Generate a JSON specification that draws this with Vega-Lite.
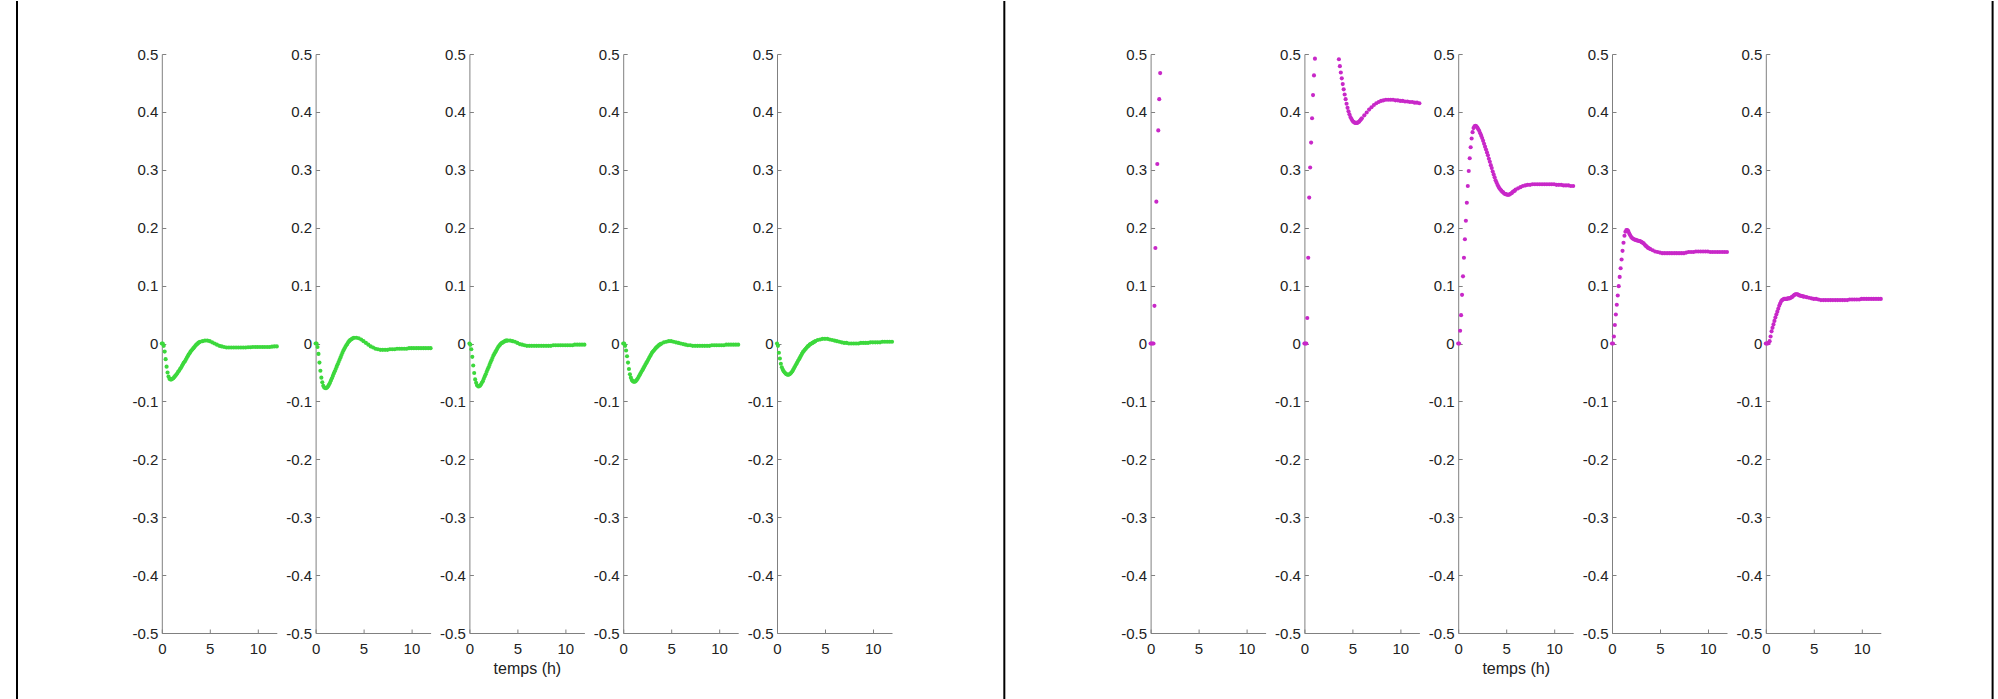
{
  "$schema": "https://vega.github.io/schema/vega-lite/v6.json",
  "padding": {"left": 16, "top": 0, "right": 0, "bottom": 0},
  "background": "white",
  "bounds": "flush",
  "spacing": 38.8,
  "datasets": {
    "G1": [
      {"t":0,"v":0},{"t":0.1,"v":0},{"t":0.2,"v":-0.004},{"t":0.3,"v":-0.014},{"t":0.4,"v":-0.027},{"t":0.5,"v":-0.04},{"t":0.6,"v":-0.05},{"t":0.7,"v":-0.057},{"t":0.8,"v":-0.061},{"t":0.9,"v":-0.062},
      {"t":1,"v":-0.062},{"t":1.1,"v":-0.061},{"t":1.2,"v":-0.06},{"t":1.3,"v":-0.058},{"t":1.4,"v":-0.056},{"t":1.5,"v":-0.054},{"t":1.6,"v":-0.052},{"t":1.7,"v":-0.049},{"t":1.8,"v":-0.047},{"t":1.9,"v":-0.044},
      {"t":2,"v":-0.042},{"t":2.1,"v":-0.039},{"t":2.2,"v":-0.036},{"t":2.3,"v":-0.033},{"t":2.4,"v":-0.031},{"t":2.5,"v":-0.028},{"t":2.6,"v":-0.025},{"t":2.7,"v":-0.022},{"t":2.8,"v":-0.019},{"t":2.9,"v":-0.017},
      {"t":3,"v":-0.014},{"t":3.1,"v":-0.012},{"t":3.2,"v":-0.01},{"t":3.3,"v":-0.008},{"t":3.4,"v":-0.006},{"t":3.5,"v":-0.004},{"t":3.6,"v":-0.002},{"t":3.7,"v":-0.001},{"t":3.8,"v":0.001},{"t":3.9,"v":0.002},
      {"t":4,"v":0.003},{"t":4.25,"v":0.004},{"t":4.5,"v":0.005},{"t":4.75,"v":0.005},{"t":5,"v":0.004},{"t":5.25,"v":0.002},{"t":5.5,"v":0},{"t":5.75,"v":-0.002},{"t":6,"v":-0.004},{"t":6.25,"v":-0.005},
      {"t":6.5,"v":-0.006},{"t":6.75,"v":-0.007},{"t":7,"v":-0.007},{"t":7.25,"v":-0.007},{"t":7.5,"v":-0.007},{"t":7.75,"v":-0.007},{"t":8,"v":-0.007},{"t":8.25,"v":-0.007},{"t":8.5,"v":-0.007},{"t":8.75,"v":-0.007},
      {"t":9,"v":-0.0065},{"t":9.25,"v":-0.0065},{"t":9.5,"v":-0.006},{"t":9.75,"v":-0.006},{"t":10,"v":-0.006},{"t":10.25,"v":-0.006},{"t":10.5,"v":-0.006},{"t":10.75,"v":-0.006},{"t":11,"v":-0.006},{"t":11.25,"v":-0.006},
      {"t":11.5,"v":-0.0055},{"t":11.75,"v":-0.005},{"t":12,"v":-0.005}
    ],
    "G2": [
      {"t":0,"v":0},{"t":0.1,"v":0},{"t":0.2,"v":-0.006},{"t":0.3,"v":-0.018},{"t":0.4,"v":-0.033},{"t":0.5,"v":-0.047},{"t":0.6,"v":-0.059},{"t":0.7,"v":-0.067},{"t":0.8,"v":-0.073},{"t":0.9,"v":-0.076},
      {"t":1,"v":-0.077},{"t":1.1,"v":-0.077},{"t":1.2,"v":-0.076},{"t":1.3,"v":-0.074},{"t":1.4,"v":-0.071},{"t":1.5,"v":-0.068},{"t":1.6,"v":-0.064},{"t":1.7,"v":-0.06},{"t":1.8,"v":-0.056},{"t":1.9,"v":-0.052},
      {"t":2,"v":-0.048},{"t":2.1,"v":-0.044},{"t":2.2,"v":-0.04},{"t":2.3,"v":-0.036},{"t":2.4,"v":-0.032},{"t":2.5,"v":-0.028},{"t":2.6,"v":-0.024},{"t":2.7,"v":-0.02},{"t":2.8,"v":-0.016},{"t":2.9,"v":-0.012},
      {"t":3,"v":-0.009},{"t":3.1,"v":-0.006},{"t":3.2,"v":-0.003},{"t":3.3,"v":-0.001},{"t":3.4,"v":0.002},{"t":3.5,"v":0.004},{"t":3.6,"v":0.006},{"t":3.7,"v":0.007},{"t":3.8,"v":0.008},{"t":3.9,"v":0.009},
      {"t":4,"v":0.01},{"t":4.25,"v":0.01},{"t":4.5,"v":0.009},{"t":4.75,"v":0.007},{"t":5,"v":0.004},{"t":5.25,"v":0.001},{"t":5.5,"v":-0.002},{"t":5.75,"v":-0.005},{"t":6,"v":-0.007},{"t":6.25,"v":-0.009},
      {"t":6.5,"v":-0.01},{"t":6.75,"v":-0.011},{"t":7,"v":-0.011},{"t":7.25,"v":-0.011},{"t":7.5,"v":-0.011},{"t":7.75,"v":-0.01},{"t":8,"v":-0.01},{"t":8.25,"v":-0.01},{"t":8.5,"v":-0.009},{"t":8.75,"v":-0.009},
      {"t":9,"v":-0.009},{"t":9.25,"v":-0.009},{"t":9.5,"v":-0.009},{"t":9.75,"v":-0.008},{"t":10,"v":-0.008},{"t":10.25,"v":-0.008},{"t":10.5,"v":-0.008},{"t":10.75,"v":-0.008},{"t":11,"v":-0.008},{"t":11.25,"v":-0.008},
      {"t":11.5,"v":-0.008},{"t":11.75,"v":-0.008},{"t":12,"v":-0.008}
    ],
    "G3": [
      {"t":0,"v":0},{"t":0.1,"v":-0.002},{"t":0.2,"v":-0.01},{"t":0.3,"v":-0.023},{"t":0.4,"v":-0.038},{"t":0.5,"v":-0.051},{"t":0.6,"v":-0.062},{"t":0.7,"v":-0.068},{"t":0.8,"v":-0.072},{"t":0.9,"v":-0.074},
      {"t":1,"v":-0.074},{"t":1.1,"v":-0.073},{"t":1.2,"v":-0.071},{"t":1.3,"v":-0.068},{"t":1.4,"v":-0.065},{"t":1.5,"v":-0.061},{"t":1.6,"v":-0.057},{"t":1.7,"v":-0.053},{"t":1.8,"v":-0.049},{"t":1.9,"v":-0.045},
      {"t":2,"v":-0.041},{"t":2.1,"v":-0.037},{"t":2.2,"v":-0.033},{"t":2.3,"v":-0.029},{"t":2.4,"v":-0.025},{"t":2.5,"v":-0.021},{"t":2.6,"v":-0.018},{"t":2.7,"v":-0.015},{"t":2.8,"v":-0.012},{"t":2.9,"v":-0.009},
      {"t":3,"v":-0.006},{"t":3.1,"v":-0.004},{"t":3.2,"v":-0.002},{"t":3.3,"v":0},{"t":3.4,"v":0.001},{"t":3.5,"v":0.002},{"t":3.6,"v":0.003},{"t":3.7,"v":0.004},{"t":3.8,"v":0.005},{"t":3.9,"v":0.005},
      {"t":4,"v":0.005},{"t":4.25,"v":0.005},{"t":4.5,"v":0.004},{"t":4.75,"v":0.003},{"t":5,"v":0.001},{"t":5.25,"v":-0.001},{"t":5.5,"v":-0.002},{"t":5.75,"v":-0.003},{"t":6,"v":-0.004},{"t":6.25,"v":-0.004},
      {"t":6.5,"v":-0.004},{"t":6.75,"v":-0.004},{"t":7,"v":-0.004},{"t":7.25,"v":-0.004},{"t":7.5,"v":-0.004},{"t":7.75,"v":-0.004},{"t":8,"v":-0.004},{"t":8.25,"v":-0.004},{"t":8.5,"v":-0.004},{"t":8.75,"v":-0.003},
      {"t":9,"v":-0.003},{"t":9.25,"v":-0.003},{"t":9.5,"v":-0.003},{"t":9.75,"v":-0.003},{"t":10,"v":-0.003},{"t":10.25,"v":-0.003},{"t":10.5,"v":-0.003},{"t":10.75,"v":-0.003},{"t":11,"v":-0.002},{"t":11.25,"v":-0.002},
      {"t":11.5,"v":-0.002},{"t":11.75,"v":-0.002},{"t":12,"v":-0.002}
    ],
    "G4": [
      {"t":0,"v":0},{"t":0.1,"v":0},{"t":0.2,"v":-0.004},{"t":0.3,"v":-0.012},{"t":0.4,"v":-0.022},{"t":0.5,"v":-0.033},{"t":0.6,"v":-0.044},{"t":0.7,"v":-0.053},{"t":0.8,"v":-0.059},{"t":0.9,"v":-0.063},
      {"t":1,"v":-0.065},{"t":1.1,"v":-0.066},{"t":1.2,"v":-0.066},{"t":1.3,"v":-0.065},{"t":1.4,"v":-0.063},{"t":1.5,"v":-0.061},{"t":1.6,"v":-0.058},{"t":1.7,"v":-0.055},{"t":1.8,"v":-0.052},{"t":1.9,"v":-0.049},
      {"t":2,"v":-0.046},{"t":2.1,"v":-0.043},{"t":2.2,"v":-0.04},{"t":2.3,"v":-0.037},{"t":2.4,"v":-0.034},{"t":2.5,"v":-0.031},{"t":2.6,"v":-0.028},{"t":2.7,"v":-0.025},{"t":2.8,"v":-0.022},{"t":2.9,"v":-0.019},
      {"t":3,"v":-0.016},{"t":3.1,"v":-0.014},{"t":3.2,"v":-0.012},{"t":3.3,"v":-0.01},{"t":3.4,"v":-0.008},{"t":3.5,"v":-0.006},{"t":3.6,"v":-0.005},{"t":3.7,"v":-0.003},{"t":3.8,"v":-0.002},{"t":3.9,"v":-0.001},
      {"t":4,"v":0},{"t":4.25,"v":0.002},{"t":4.5,"v":0.003},{"t":4.75,"v":0.004},{"t":5,"v":0.004},{"t":5.25,"v":0.003},{"t":5.5,"v":0.002},{"t":5.75,"v":0.001},{"t":6,"v":0},{"t":6.25,"v":-0.001},
      {"t":6.5,"v":-0.002},{"t":6.75,"v":-0.003},{"t":7,"v":-0.003},{"t":7.25,"v":-0.004},{"t":7.5,"v":-0.004},{"t":7.75,"v":-0.004},{"t":8,"v":-0.004},{"t":8.25,"v":-0.004},{"t":8.5,"v":-0.004},{"t":8.75,"v":-0.004},
      {"t":9,"v":-0.004},{"t":9.25,"v":-0.003},{"t":9.5,"v":-0.003},{"t":9.75,"v":-0.003},{"t":10,"v":-0.003},{"t":10.25,"v":-0.003},{"t":10.5,"v":-0.003},{"t":10.75,"v":-0.002},{"t":11,"v":-0.002},{"t":11.25,"v":-0.002},
      {"t":11.5,"v":-0.002},{"t":11.75,"v":-0.002},{"t":12,"v":-0.002}
    ],
    "G5": [
      {"t":0,"v":0},{"t":0.1,"v":-0.004},{"t":0.2,"v":-0.016},{"t":0.3,"v":-0.026},{"t":0.4,"v":-0.035},{"t":0.5,"v":-0.041},{"t":0.6,"v":-0.045},{"t":0.7,"v":-0.048},{"t":0.8,"v":-0.05},{"t":0.9,"v":-0.052},
      {"t":1,"v":-0.053},{"t":1.1,"v":-0.054},{"t":1.2,"v":-0.054},{"t":1.3,"v":-0.053},{"t":1.4,"v":-0.052},{"t":1.5,"v":-0.05},{"t":1.6,"v":-0.048},{"t":1.7,"v":-0.045},{"t":1.8,"v":-0.042},{"t":1.9,"v":-0.039},
      {"t":2,"v":-0.036},{"t":2.1,"v":-0.033},{"t":2.2,"v":-0.03},{"t":2.3,"v":-0.027},{"t":2.4,"v":-0.024},{"t":2.5,"v":-0.021},{"t":2.6,"v":-0.018},{"t":2.7,"v":-0.015},{"t":2.8,"v":-0.013},{"t":2.9,"v":-0.011},
      {"t":3,"v":-0.009},{"t":3.1,"v":-0.007},{"t":3.2,"v":-0.005},{"t":3.3,"v":-0.004},{"t":3.4,"v":-0.002},{"t":3.5,"v":-0.001},{"t":3.6,"v":0},{"t":3.7,"v":0.001},{"t":3.8,"v":0.002},{"t":3.9,"v":0.003},
      {"t":4,"v":0.004},{"t":4.25,"v":0.006},{"t":4.5,"v":0.007},{"t":4.75,"v":0.008},{"t":5,"v":0.008},{"t":5.25,"v":0.008},{"t":5.5,"v":0.007},{"t":5.75,"v":0.006},{"t":6,"v":0.005},{"t":6.25,"v":0.004},
      {"t":6.5,"v":0.003},{"t":6.75,"v":0.002},{"t":7,"v":0.001},{"t":7.25,"v":0.001},{"t":7.5,"v":0},{"t":7.75,"v":0},{"t":8,"v":0},{"t":8.25,"v":0},{"t":8.5,"v":0},{"t":8.75,"v":0.001},
      {"t":9,"v":0.001},{"t":9.25,"v":0.001},{"t":9.5,"v":0.001},{"t":9.75,"v":0.002},{"t":10,"v":0.002},{"t":10.25,"v":0.002},{"t":10.5,"v":0.002},{"t":10.75,"v":0.002},{"t":11,"v":0.003},{"t":11.25,"v":0.003},
      {"t":11.5,"v":0.003},{"t":11.75,"v":0.003},{"t":12,"v":0.003}
    ],
    "M1": [
      {"t":0,"v":0},{"t":0.1,"v":0},{"t":0.2,"v":0},{"t":0.3,"v":0},{"t":0.4,"v":0.065},{"t":0.5,"v":0.165},{"t":0.6,"v":0.245},{"t":0.7,"v":0.31},{"t":0.8,"v":0.368},{"t":0.9,"v":0.422},
      {"t":1,"v":0.467}
    ],
    "M2": [
      {"t":0,"v":0},{"t":0.1,"v":0},{"t":0.2,"v":0},{"t":0.3,"v":0.044},{"t":0.4,"v":0.148},{"t":0.5,"v":0.252},{"t":0.6,"v":0.304},{"t":0.7,"v":0.347},{"t":0.8,"v":0.389},{"t":0.9,"v":0.429},
      {"t":1,"v":0.463},{"t":1.1,"v":0.492},
      {"t":3.6,"v":0.491},{"t":3.7,"v":0.479},{"t":3.8,"v":0.468},{"t":3.9,"v":0.458},{"t":4,"v":0.448},{"t":4.1,"v":0.439},{"t":4.2,"v":0.43},{"t":4.3,"v":0.422},{"t":4.4,"v":0.414},{"t":4.5,"v":0.407},
      {"t":4.6,"v":0.401},{"t":4.7,"v":0.396},{"t":4.8,"v":0.391},{"t":4.9,"v":0.388},{"t":5,"v":0.385},{"t":5.1,"v":0.383},{"t":5.2,"v":0.382},{"t":5.3,"v":0.381},{"t":5.4,"v":0.381},{"t":5.5,"v":0.381},
      {"t":5.6,"v":0.382},{"t":5.7,"v":0.383},{"t":5.8,"v":0.385},{"t":5.9,"v":0.387},{"t":6,"v":0.389},{"t":6.25,"v":0.394},{"t":6.5,"v":0.399},{"t":6.75,"v":0.404},{"t":7,"v":0.408},{"t":7.25,"v":0.412},
      {"t":7.5,"v":0.415},{"t":7.75,"v":0.417},{"t":8,"v":0.419},{"t":8.25,"v":0.42},{"t":8.5,"v":0.421},{"t":8.75,"v":0.421},{"t":9,"v":0.421},{"t":9.25,"v":0.421},{"t":9.5,"v":0.42},{"t":9.75,"v":0.42},
      {"t":10,"v":0.419},{"t":10.25,"v":0.419},{"t":10.5,"v":0.418},{"t":10.75,"v":0.418},{"t":11,"v":0.417},{"t":11.25,"v":0.417},{"t":11.5,"v":0.416},{"t":11.75,"v":0.416},{"t":12,"v":0.415}
    ],
    "M3": [
      {"t":0,"v":0},{"t":0.1,"v":0},{"t":0.2,"v":0.022},{"t":0.3,"v":0.049},{"t":0.4,"v":0.084},{"t":0.5,"v":0.116},{"t":0.6,"v":0.148},{"t":0.7,"v":0.18},{"t":0.8,"v":0.212},{"t":0.9,"v":0.243},
      {"t":1,"v":0.272},{"t":1.1,"v":0.298},{"t":1.2,"v":0.32},{"t":1.3,"v":0.339},{"t":1.4,"v":0.354},{"t":1.5,"v":0.365},{"t":1.6,"v":0.372},{"t":1.7,"v":0.375},{"t":1.8,"v":0.376},{"t":1.9,"v":0.375},
      {"t":2,"v":0.373},{"t":2.1,"v":0.37},{"t":2.2,"v":0.367},{"t":2.3,"v":0.363},{"t":2.4,"v":0.359},{"t":2.5,"v":0.355},{"t":2.6,"v":0.35},{"t":2.7,"v":0.345},{"t":2.8,"v":0.34},{"t":2.9,"v":0.335},
      {"t":3,"v":0.33},{"t":3.1,"v":0.325},{"t":3.2,"v":0.319},{"t":3.3,"v":0.314},{"t":3.4,"v":0.308},{"t":3.5,"v":0.303},{"t":3.6,"v":0.297},{"t":3.7,"v":0.292},{"t":3.8,"v":0.287},{"t":3.9,"v":0.282},
      {"t":4,"v":0.278},{"t":4.1,"v":0.274},{"t":4.2,"v":0.271},{"t":4.3,"v":0.268},{"t":4.4,"v":0.266},{"t":4.5,"v":0.264},{"t":4.6,"v":0.262},{"t":4.7,"v":0.261},{"t":4.8,"v":0.259},{"t":4.9,"v":0.258},
      {"t":5,"v":0.258},{"t":5.1,"v":0.257},{"t":5.2,"v":0.257},{"t":5.3,"v":0.257},{"t":5.4,"v":0.258},{"t":5.5,"v":0.259},{"t":5.6,"v":0.26},{"t":5.7,"v":0.262},{"t":5.8,"v":0.263},{"t":5.9,"v":0.264},
      {"t":6,"v":0.266},{"t":6.25,"v":0.268},{"t":6.5,"v":0.27},{"t":6.75,"v":0.272},{"t":7,"v":0.273},{"t":7.25,"v":0.274},{"t":7.5,"v":0.274},{"t":7.75,"v":0.275},{"t":8,"v":0.275},{"t":8.25,"v":0.275},
      {"t":8.5,"v":0.275},{"t":8.75,"v":0.275},{"t":9,"v":0.275},{"t":9.25,"v":0.275},{"t":9.5,"v":0.275},{"t":9.75,"v":0.275},{"t":10,"v":0.275},{"t":10.25,"v":0.274},{"t":10.5,"v":0.274},{"t":10.75,"v":0.274},
      {"t":11,"v":0.273},{"t":11.25,"v":0.273},{"t":11.5,"v":0.273},{"t":11.75,"v":0.272},{"t":12,"v":0.272}
    ],
    "M4": [
      {"t":0,"v":0},{"t":0.1,"v":0},{"t":0.2,"v":0.012},{"t":0.3,"v":0.032},{"t":0.4,"v":0.05},{"t":0.5,"v":0.067},{"t":0.6,"v":0.083},{"t":0.7,"v":0.099},{"t":0.8,"v":0.115},{"t":0.9,"v":0.13},
      {"t":1,"v":0.145},{"t":1.1,"v":0.16},{"t":1.2,"v":0.174},{"t":1.3,"v":0.186},{"t":1.4,"v":0.193},{"t":1.5,"v":0.196},{"t":1.6,"v":0.196},{"t":1.7,"v":0.194},{"t":1.8,"v":0.19},{"t":1.9,"v":0.187},
      {"t":2,"v":0.184},{"t":2.1,"v":0.182},{"t":2.2,"v":0.181},{"t":2.3,"v":0.18},{"t":2.4,"v":0.179},{"t":2.5,"v":0.179},{"t":2.6,"v":0.178},{"t":2.7,"v":0.178},{"t":2.8,"v":0.177},{"t":2.9,"v":0.177},
      {"t":3,"v":0.176},{"t":3.1,"v":0.175},{"t":3.2,"v":0.174},{"t":3.3,"v":0.173},{"t":3.4,"v":0.171},{"t":3.5,"v":0.169},{"t":3.6,"v":0.168},{"t":3.7,"v":0.166},{"t":3.8,"v":0.165},{"t":3.9,"v":0.164},
      {"t":4,"v":0.163},{"t":4.25,"v":0.161},{"t":4.5,"v":0.159},{"t":4.75,"v":0.158},{"t":5,"v":0.157},{"t":5.25,"v":0.156},{"t":5.5,"v":0.156},{"t":5.75,"v":0.156},{"t":6,"v":0.156},{"t":6.25,"v":0.156},
      {"t":6.5,"v":0.156},{"t":6.75,"v":0.156},{"t":7,"v":0.156},{"t":7.25,"v":0.156},{"t":7.5,"v":0.156},{"t":7.75,"v":0.157},{"t":8,"v":0.158},{"t":8.25,"v":0.158},{"t":8.5,"v":0.158},{"t":8.75,"v":0.159},
      {"t":9,"v":0.159},{"t":9.25,"v":0.159},{"t":9.5,"v":0.159},{"t":9.75,"v":0.159},{"t":10,"v":0.159},{"t":10.25,"v":0.158},{"t":10.5,"v":0.158},{"t":10.75,"v":0.158},{"t":11,"v":0.158},{"t":11.25,"v":0.158},
      {"t":11.5,"v":0.158},{"t":11.75,"v":0.158},{"t":12,"v":0.158}
    ],
    "M5": [
      {"t":0,"v":0},{"t":0.1,"v":0},{"t":0.2,"v":0},{"t":0.3,"v":0.001},{"t":0.4,"v":0.004},{"t":0.5,"v":0.012},{"t":0.6,"v":0.021},{"t":0.7,"v":0.027},{"t":0.8,"v":0.033},{"t":0.9,"v":0.039},
      {"t":1,"v":0.045},{"t":1.1,"v":0.05},{"t":1.2,"v":0.055},{"t":1.3,"v":0.06},{"t":1.4,"v":0.065},{"t":1.5,"v":0.069},{"t":1.6,"v":0.073},{"t":1.7,"v":0.075},{"t":1.8,"v":0.076},{"t":1.9,"v":0.077},
      {"t":2,"v":0.077},{"t":2.1,"v":0.077},{"t":2.2,"v":0.077},{"t":2.3,"v":0.078},{"t":2.4,"v":0.078},{"t":2.5,"v":0.078},{"t":2.6,"v":0.079},{"t":2.7,"v":0.08},{"t":2.8,"v":0.081},{"t":2.9,"v":0.083},
      {"t":3,"v":0.084},{"t":3.1,"v":0.085},{"t":3.2,"v":0.085},{"t":3.3,"v":0.085},{"t":3.4,"v":0.084},{"t":3.5,"v":0.083},{"t":3.6,"v":0.083},{"t":3.7,"v":0.082},{"t":3.8,"v":0.082},{"t":3.9,"v":0.081},
      {"t":4,"v":0.081},{"t":4.25,"v":0.08},{"t":4.5,"v":0.079},{"t":4.75,"v":0.078},{"t":5,"v":0.077},{"t":5.25,"v":0.077},{"t":5.5,"v":0.076},{"t":5.75,"v":0.075},{"t":6,"v":0.075},{"t":6.25,"v":0.075},
      {"t":6.5,"v":0.075},{"t":6.75,"v":0.075},{"t":7,"v":0.075},{"t":7.25,"v":0.075},{"t":7.5,"v":0.075},{"t":7.75,"v":0.075},{"t":8,"v":0.075},{"t":8.25,"v":0.075},{"t":8.5,"v":0.075},{"t":8.75,"v":0.076},
      {"t":9,"v":0.076},{"t":9.25,"v":0.076},{"t":9.5,"v":0.076},{"t":9.75,"v":0.076},{"t":10,"v":0.077},{"t":10.25,"v":0.077},{"t":10.5,"v":0.077},{"t":10.75,"v":0.077},{"t":11,"v":0.077},{"t":11.25,"v":0.077},
      {"t":11.5,"v":0.077},{"t":11.75,"v":0.077},{"t":12,"v":0.077}
    ]
  },
  "hconcat": [
    {
      "width": 105.2, "height": 579,
      "data": {"values": [{}]},
      "mark": {"type": "rule", "color": "black", "strokeWidth": 2},
      "encoding": {
        "x": {"datum": 0, "type": "quantitative", "scale": {"domain": [0, 1]}, "axis": null},
        "y": {"datum": 0.5915, "type": "quantitative", "scale": {"domain": [-0.5, 0.5], "nice": false}, "axis": null},
        "y2": {"datum": -0.6157}
      }
    },
    {
      "width": 115, "height": 579,
      "data": {"name": "G1"},
      "mark": {"type": "point", "filled": true, "size": 17, "opacity": 1, "color": "#3cd83c"},
      "encoding": {
        "x": {"field": "t", "type": "quantitative", "scale": {"domain": [0, 12], "nice": false}, "title": null},
        "y": {"field": "v", "type": "quantitative", "scale": {"domain": [-0.5, 0.5], "nice": false}, "title": null,
              "axis": {"labelExpr": "replace(format(datum.value, '.1~f'), '\u2212', '-')"}}
      }
    },
    {
      "width": 115, "height": 579,
      "data": {"name": "G2"},
      "mark": {"type": "point", "filled": true, "size": 17, "opacity": 1, "color": "#3cd83c"},
      "encoding": {
        "x": {"field": "t", "type": "quantitative", "scale": {"domain": [0, 12], "nice": false}, "title": null},
        "y": {"field": "v", "type": "quantitative", "scale": {"domain": [-0.5, 0.5], "nice": false}, "title": null,
              "axis": {"labelExpr": "replace(format(datum.value, '.1~f'), '\u2212', '-')"}}
      }
    },
    {
      "width": 115, "height": 579,
      "data": {"name": "G3"},
      "mark": {"type": "point", "filled": true, "size": 17, "opacity": 1, "color": "#3cd83c"},
      "encoding": {
        "x": {"field": "t", "type": "quantitative", "scale": {"domain": [0, 12], "nice": false}, "title": "temps (h)"},
        "y": {"field": "v", "type": "quantitative", "scale": {"domain": [-0.5, 0.5], "nice": false}, "title": null,
              "axis": {"labelExpr": "replace(format(datum.value, '.1~f'), '\u2212', '-')"}}
      }
    },
    {
      "width": 115, "height": 579,
      "data": {"name": "G4"},
      "mark": {"type": "point", "filled": true, "size": 17, "opacity": 1, "color": "#3cd83c"},
      "encoding": {
        "x": {"field": "t", "type": "quantitative", "scale": {"domain": [0, 12], "nice": false}, "title": null},
        "y": {"field": "v", "type": "quantitative", "scale": {"domain": [-0.5, 0.5], "nice": false}, "title": null,
              "axis": {"labelExpr": "replace(format(datum.value, '.1~f'), '\u2212', '-')"}}
      }
    },
    {
      "width": 115, "height": 579,
      "data": {"name": "G5"},
      "mark": {"type": "point", "filled": true, "size": 17, "opacity": 1, "color": "#3cd83c"},
      "encoding": {
        "x": {"field": "t", "type": "quantitative", "scale": {"domain": [0, 12], "nice": false}, "title": null},
        "y": {"field": "v", "type": "quantitative", "scale": {"domain": [-0.5, 0.5], "nice": false}, "title": null,
              "axis": {"labelExpr": "replace(format(datum.value, '.1~f'), '\u2212', '-')"}}
      }
    },
    {
      "width": 180.2, "height": 579,
      "data": {"values": [{}]},
      "mark": {"type": "rule", "color": "black", "strokeWidth": 2},
      "encoding": {
        "x": {"datum": 0.408, "type": "quantitative", "scale": {"domain": [0, 1]}, "axis": null},
        "y": {"datum": 0.5915, "type": "quantitative", "scale": {"domain": [-0.5, 0.5], "nice": false}, "axis": null},
        "y2": {"datum": -0.6157}
      }
    },
    {
      "width": 115, "height": 579,
      "data": {"name": "M1"},
      "mark": {"type": "point", "filled": true, "size": 17, "opacity": 1, "color": "#c828c8"},
      "encoding": {
        "x": {"field": "t", "type": "quantitative", "scale": {"domain": [0, 12], "nice": false}, "title": null},
        "y": {"field": "v", "type": "quantitative", "scale": {"domain": [-0.5, 0.5], "nice": false}, "title": null,
              "axis": {"labelExpr": "replace(format(datum.value, '.1~f'), '\u2212', '-')"}}
      }
    },
    {
      "width": 115, "height": 579,
      "data": {"name": "M2"},
      "mark": {"type": "point", "filled": true, "size": 17, "opacity": 1, "color": "#c828c8"},
      "encoding": {
        "x": {"field": "t", "type": "quantitative", "scale": {"domain": [0, 12], "nice": false}, "title": null},
        "y": {"field": "v", "type": "quantitative", "scale": {"domain": [-0.5, 0.5], "nice": false}, "title": null,
              "axis": {"labelExpr": "replace(format(datum.value, '.1~f'), '\u2212', '-')"}}
      }
    },
    {
      "width": 115, "height": 579,
      "data": {"name": "M3"},
      "mark": {"type": "point", "filled": true, "size": 17, "opacity": 1, "color": "#c828c8"},
      "encoding": {
        "x": {"field": "t", "type": "quantitative", "scale": {"domain": [0, 12], "nice": false}, "title": "temps (h)"},
        "y": {"field": "v", "type": "quantitative", "scale": {"domain": [-0.5, 0.5], "nice": false}, "title": null,
              "axis": {"labelExpr": "replace(format(datum.value, '.1~f'), '\u2212', '-')"}}
      }
    },
    {
      "width": 115, "height": 579,
      "data": {"name": "M4"},
      "mark": {"type": "point", "filled": true, "size": 17, "opacity": 1, "color": "#c828c8"},
      "encoding": {
        "x": {"field": "t", "type": "quantitative", "scale": {"domain": [0, 12], "nice": false}, "title": null},
        "y": {"field": "v", "type": "quantitative", "scale": {"domain": [-0.5, 0.5], "nice": false}, "title": null,
              "axis": {"labelExpr": "replace(format(datum.value, '.1~f'), '\u2212', '-')"}}
      }
    },
    {
      "width": 115, "height": 579,
      "data": {"name": "M5"},
      "mark": {"type": "point", "filled": true, "size": 17, "opacity": 1, "color": "#c828c8"},
      "encoding": {
        "x": {"field": "t", "type": "quantitative", "scale": {"domain": [0, 12], "nice": false}, "title": null},
        "y": {"field": "v", "type": "quantitative", "scale": {"domain": [-0.5, 0.5], "nice": false}, "title": null,
              "axis": {"labelExpr": "replace(format(datum.value, '.1~f'), '\u2212', '-')"}}
      }
    },
    {
      "width": 73, "height": 579,
      "data": {"values": [{}]},
      "mark": {"type": "rule", "color": "black", "strokeWidth": 2},
      "encoding": {
        "x": {"datum": 1, "type": "quantitative", "scale": {"domain": [0, 1]}, "axis": null},
        "y": {"datum": 0.5915, "type": "quantitative", "scale": {"domain": [-0.5, 0.5], "nice": false}, "axis": null},
        "y2": {"datum": -0.6157}
      }
    }
  ],
  "config": {
    "view": {"stroke": null},
    "axis": {
      "grid": false,
      "domainColor": "#808080",
      "tickColor": "#808080",
      "domainWidth": 1,
      "tickWidth": 1,
      "tickSize": -4,
      "labelFont": "Liberation Sans",
      "labelFontSize": 15,
      "labelColor": "#222222",
      "labelFlush": false,
      "titleFont": "Liberation Sans",
      "titleFontSize": 16,
      "titleFontWeight": "normal",
      "titleColor": "#222222"
    },
    "axisX": {"tickCount": 3, "labelPadding": 12, "titlePadding": 4},
    "axisY": {"tickCount": 10, "labelPadding": 8}
  }
}
